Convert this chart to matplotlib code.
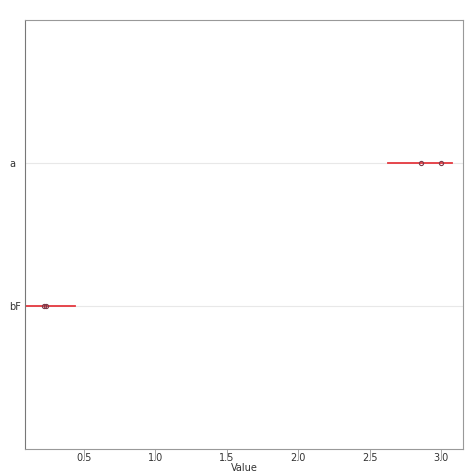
import matplotlib
matplotlib.use("Agg")
import matplotlib.pyplot as plt

# ==== DATA ================================================================== #

labels    = ["bF", "a"]
positions = [1, 2]
points    = [[0.22, 0.235], [2.86, 3.00]]
lo        = [0.05, 2.63]
hi        = [0.44, 3.08]

# ==== PLOT ================================================================== #

fig = plt.figure(figsize=(4.74, 4.74), dpi=100)
ax  = fig.add_axes([25 / 474, 25 / 474, 438 / 474, 429 / 474])

for y in positions:
    ax.axhline(y, color="#e8e8e8", lw=0.8, zorder=0)

for y, l, h, pts in zip(positions, lo, hi, points):
    ax.plot([l, h], [y, y], color="#e4383f", lw=1.3, zorder=2)
    ax.plot(pts, [y] * len(pts), "o", ms=3, mfc="none", mec="#7a3b4a", mew=0.8, zorder=3)

ax.set_xlim(0.087, 3.154)
ax.set_ylim(0, 3)
ax.set_xticks([0.5, 1.0, 1.5, 2.0, 2.5, 3.0])
ax.set_yticks(positions)
ax.set_yticklabels(labels, ha="left")

for s in ax.spines.values():
    s.set_color("#999999")
ax.spines["left"].set_color("#777777")

ax.tick_params(axis="x", length=8, width=0.6, color="#999999", pad=-5, labelsize=7, labelcolor="#333333")
ax.tick_params(axis="y", length=0, pad=11.5, labelsize=7, labelcolor="#333333")
ax.set_xlabel("Value", fontsize=7, color="#333333", labelpad=0)

fig.savefig("out.png", dpi=100)
